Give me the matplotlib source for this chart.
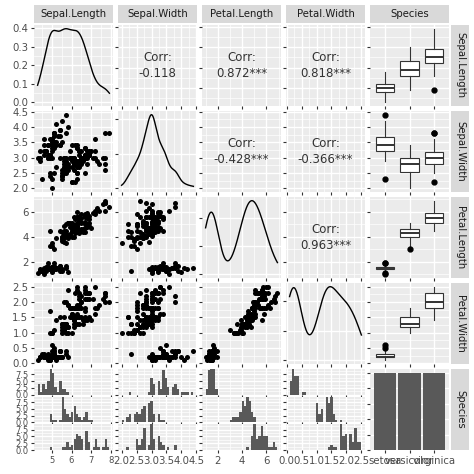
import numpy as np, math
import matplotlib
matplotlib.use("Agg")
import matplotlib.pyplot as plt
from matplotlib.ticker import AutoMinorLocator, FixedLocator

sepal_length = [5.1,4.9,4.7,4.6,5.0,5.4,4.6,5.0,4.4,4.9,5.4,4.8,4.8,4.3,5.8,5.7,5.4,5.1,5.7,5.1,5.4,5.1,4.6,5.1,4.8,5.0,5.0,5.2,5.2,4.7,4.8,5.4,5.2,5.5,4.9,5.0,5.5,4.9,4.4,5.1,5.0,4.5,4.4,5.0,5.1,4.8,5.1,4.6,5.3,5.0,
 7.0,6.4,6.9,5.5,6.5,5.7,6.3,4.9,6.6,5.2,5.0,5.9,6.0,6.1,5.6,6.7,5.6,5.8,6.2,5.6,5.9,6.1,6.3,6.1,6.4,6.6,6.8,6.7,6.0,5.7,5.5,5.5,5.8,6.0,5.4,6.0,6.7,6.3,5.6,5.5,5.5,6.1,5.8,5.0,5.6,5.7,5.7,6.2,5.1,5.7,
 6.3,5.8,7.1,6.3,6.5,7.6,4.9,7.3,6.7,7.2,6.5,6.4,6.8,5.7,5.8,6.4,6.5,7.7,7.7,6.0,6.9,5.6,7.7,6.3,6.7,7.2,6.2,6.1,6.4,7.2,7.4,7.9,6.4,6.3,6.1,7.7,6.3,6.4,6.0,6.9,6.7,6.9,5.8,6.8,6.7,6.7,6.3,6.5,6.2,5.9]
sepal_width = [3.5,3.0,3.2,3.1,3.6,3.9,3.4,3.4,2.9,3.1,3.7,3.4,3.0,3.0,4.0,4.4,3.9,3.5,3.8,3.8,3.4,3.7,3.6,3.3,3.4,3.0,3.4,3.5,3.4,3.2,3.1,3.4,4.1,4.2,3.1,3.2,3.5,3.6,3.0,3.4,3.5,2.3,3.2,3.5,3.8,3.0,3.8,3.2,3.7,3.3,
 3.2,3.2,3.1,2.3,2.8,2.8,3.3,2.4,2.9,2.7,2.0,3.0,2.2,2.9,2.9,3.1,3.0,2.7,2.2,2.5,3.2,2.8,2.5,2.8,2.9,3.0,2.8,3.0,2.9,2.6,2.4,2.4,2.7,2.7,3.0,3.4,3.1,2.3,3.0,2.5,2.6,3.0,2.6,2.3,2.7,3.0,2.9,2.9,2.5,2.8,
 3.3,2.7,3.0,2.9,3.0,3.0,2.5,2.9,2.5,3.6,3.2,2.7,3.0,2.5,2.8,3.2,3.0,3.8,2.6,2.2,3.2,2.8,2.8,2.7,3.3,3.2,2.8,3.0,2.8,3.0,2.8,3.8,2.8,2.8,2.6,3.0,3.4,3.1,3.0,3.1,3.1,3.1,2.7,3.2,3.3,3.0,2.5,3.0,3.4,3.0]
petal_length = [1.4,1.4,1.3,1.5,1.4,1.7,1.4,1.5,1.4,1.5,1.5,1.6,1.4,1.1,1.2,1.5,1.3,1.4,1.7,1.5,1.7,1.5,1.0,1.7,1.9,1.6,1.6,1.5,1.4,1.6,1.6,1.5,1.5,1.4,1.5,1.2,1.3,1.4,1.3,1.5,1.3,1.3,1.3,1.6,1.9,1.4,1.6,1.4,1.5,1.4,
 4.7,4.5,4.9,4.0,4.6,4.5,4.7,3.3,4.6,3.9,3.5,4.2,4.0,4.7,3.6,4.4,4.5,4.1,4.5,3.9,4.8,4.0,4.9,4.7,4.3,4.4,4.8,5.0,4.5,3.5,3.8,3.7,3.9,5.1,4.5,4.5,4.7,4.4,4.1,4.0,4.4,4.6,4.0,3.3,4.2,4.2,4.2,4.3,3.0,4.1,
 6.0,5.1,5.9,5.6,5.8,6.6,4.5,6.3,5.8,6.1,5.1,5.3,5.5,5.0,5.1,5.3,5.5,6.7,6.9,5.0,5.7,4.9,6.7,4.9,5.7,6.0,4.8,4.9,5.6,5.8,6.1,6.4,5.6,5.1,5.6,6.1,5.6,5.5,4.8,5.4,5.6,5.1,5.1,5.9,5.7,5.2,5.0,5.2,5.4,5.1]
petal_width = [0.2,0.2,0.2,0.2,0.2,0.4,0.3,0.2,0.2,0.1,0.2,0.2,0.1,0.1,0.2,0.4,0.4,0.3,0.3,0.3,0.2,0.4,0.2,0.5,0.2,0.2,0.4,0.2,0.2,0.2,0.2,0.4,0.1,0.2,0.2,0.2,0.2,0.1,0.2,0.2,0.3,0.3,0.2,0.6,0.4,0.3,0.2,0.2,0.2,0.2,
 1.4,1.5,1.5,1.3,1.5,1.3,1.6,1.0,1.3,1.4,1.0,1.5,1.0,1.4,1.3,1.4,1.5,1.0,1.5,1.1,1.8,1.3,1.5,1.2,1.3,1.4,1.4,1.7,1.5,1.0,1.1,1.0,1.2,1.6,1.5,1.6,1.5,1.3,1.3,1.3,1.2,1.4,1.2,1.0,1.3,1.2,1.3,1.3,1.1,1.3,
 2.5,1.9,2.1,1.8,2.2,2.1,1.7,1.8,1.8,2.5,2.0,1.9,2.1,2.0,2.4,2.3,1.8,2.2,2.3,1.5,2.3,2.0,2.0,1.8,2.1,1.8,1.8,1.8,2.1,1.6,1.9,2.0,2.2,1.5,1.4,2.3,2.4,1.8,1.8,2.1,2.4,2.3,1.9,2.3,2.5,2.3,1.9,2.0,2.3,1.8]
species_names = ["setosa", "versicolor", "virginica"]
species_counts = [50, 50, 50]
var_names = ["Sepal.Length", "Sepal.Width", "Petal.Length", "Petal.Width", "Species"]
tick_sets = [[5, 6, 7, 8], [2.0, 2.5, 3.0, 3.5, 4.0, 4.5], [2, 4, 6], [0.0, 0.5, 1.0, 1.5, 2.0, 2.5]]
tick_fmt = ["{:g}", "{:.1f}", "{:g}", "{:.1f}"]

data = [np.array(sepal_length), np.array(sepal_width), np.array(petal_length), np.array(petal_width)]
sp = np.repeat(np.arange(3), species_counts)

def lims(v):
    lo, hi = v.min(), v.max(); r = hi - lo
    return lo - 0.05 * r, hi + 0.05 * r

W = 474
fig = plt.figure(figsize=(4.74, 4.74), dpi=100)
PX0, PY0, PW, PH, GAP = 34, 25, 79, 81, 5
BG, GRIDC, TXT = "#EBEBEB", "white", "#4D4D4D"
FS = 7.3

def rect(x, y, w, h):
    return [x / W, 1 - (y + h) / W, w / W, h / W]

def style(ax):
    ax.set_facecolor(BG)
    for s in ax.spines.values():
        s.set_visible(False)
    ax.set_axisbelow(True)
    ax.grid(True, which="major", color=GRIDC, lw=1.0)
    ax.grid(True, which="minor", color=GRIDC, lw=0.5)
    ax.tick_params(which="both", length=2.5, color="#333333", labelsize=FS, labelcolor=TXT, pad=1.5)
    ax.tick_params(which="minor", length=0)
    ax.tick_params(labelbottom=False, labelleft=False)

def setx(ax, j):
    ax.set_xlim(*lims(data[j]))
    ax.xaxis.set_major_locator(FixedLocator(tick_sets[j]))
    ax.xaxis.set_minor_locator(AutoMinorLocator(2))

def sety(ax, i):
    ax.set_ylim(*lims(data[i]))
    ax.yaxis.set_major_locator(FixedLocator(tick_sets[i]))
    ax.yaxis.set_minor_locator(AutoMinorLocator(2))

def kde(v):
    n = len(v)
    iqr = np.subtract(*np.percentile(v, [75, 25]))
    bw = 0.9 * min(v.std(ddof=1), iqr / 1.34) * n ** -0.2
    xs = np.linspace(v.min(), v.max(), 512)
    ys = np.exp(-0.5 * ((xs[:, None] - v[None, :]) / bw) ** 2).sum(1) / (n * bw * np.sqrt(2 * np.pi))
    return xs, ys

def stars(r, n=150):
    t = r * math.sqrt((n - 2) / (1 - r * r))
    p = math.erfc(abs(t) / math.sqrt(2))
    return "***" if p < 0.001 else "**" if p < 0.01 else "*" if p < 0.05 else ""

for i in range(5):
    for j in range(5):
        x0 = PX0 + j * (PW + GAP); y0 = PY0 + i * (PH + GAP)
        if i == 4 and j < 4:
            v = data[j]
            edges = np.linspace(v.min(), v.max(), 31)
            hh = (PH - 4) / 3
            for k in range(3):
                ax = fig.add_axes(rect(x0, y0 + k * (hh + 2), PW, hh))
                style(ax); setx(ax, j)
                ax.hist(v[sp == k], bins=edges, color="#595959")
                ax.set_ylim(0, 9.5)
                ax.yaxis.set_major_locator(FixedLocator([0, 2.5, 5.0, 7.5]))
                ax.yaxis.set_minor_locator(AutoMinorLocator(2))
                ax.yaxis.set_major_formatter(lambda val, pos: f"{val:.1f}")
                if j == 0:
                    ax.tick_params(labelleft=True, labelsize=6)
                if k == 2:
                    ax.tick_params(labelbottom=True)
                    ax.xaxis.set_major_formatter(lambda val, pos, f=tick_fmt[j]: f.format(val))
            continue
        ax = fig.add_axes(rect(x0, y0, PW, PH))
        style(ax)
        if i == 4 and j == 4:
            ax.bar(range(3), species_counts, width=0.9, color="#595959")
            ax.set_xlim(-0.6, 2.6); ax.set_ylim(0, 52.5)
            ax.set_xticks(range(3)); ax.set_xticklabels(species_names)
            ax.tick_params(labelbottom=True)
            ax.yaxis.set_major_locator(FixedLocator([0, 10, 20, 30, 40, 50]))
        elif j == 4:
            ax.boxplot([data[i][sp == k] for k in range(3)], positions=range(3), widths=0.75,
                       patch_artist=True, whis=1.5,
                       boxprops=dict(facecolor="white", edgecolor="#333333", lw=0.8),
                       medianprops=dict(color="#333333", lw=1.4),
                       whiskerprops=dict(color="#333333", lw=0.8), capprops=dict(lw=0),
                       flierprops=dict(marker="o", markerfacecolor="black", markeredgecolor="black", markersize=3.5))
            ax.set_xlim(-0.6, 2.6); sety(ax, i)
            ax.set_xticks(range(3)); ax.set_xticklabels(species_names)
            ax.xaxis.grid(True)
        elif i == j:
            xs, ys = kde(data[i])
            ax.plot(xs, ys, color="black", lw=1)
            setx(ax, j)
            ax.set_ylim(-0.05 * ys.max(), ys.max() * 1.05)
            if i == 0:
                ax.yaxis.set_major_locator(FixedLocator([0, 0.1, 0.2, 0.3, 0.4]))
                ax.yaxis.set_minor_locator(AutoMinorLocator(2))
                ax.yaxis.set_major_formatter(lambda val, pos: f"{val:.1f}")
                ax.tick_params(labelleft=True)
        elif i > j:
            ax.scatter(data[j], data[i], s=13, color="black", linewidths=0)
            setx(ax, j); sety(ax, i)
            if j == 0:
                ax.tick_params(labelleft=True)
                ax.yaxis.set_major_formatter(lambda val, pos, f=tick_fmt[i]: f.format(val))
        else:
            setx(ax, j); sety(ax, i)
            r = np.corrcoef(data[j], data[i])[0, 1]
            ax.text(0.5, 0.6, "Corr:", transform=ax.transAxes, ha="center", va="center", fontsize=8.5, color="#333333")
            ax.text(0.5, 0.4, f"{r:.3f}{stars(r)}", transform=ax.transAxes, ha="center", va="center", fontsize=8.5, color="#333333")
        if i == 0:
            sx = fig.add_axes(rect(x0, 5, PW, 18)); sx.set_facecolor("#D9D9D9")
            sx.set_xticks([]); sx.set_yticks([])
            for s in sx.spines.values(): s.set_visible(False)
            sx.text(0.5, 0.5, var_names[j], ha="center", va="center", fontsize=FS, color="#1A1A1A")
    sx = fig.add_axes(rect(PX0 + 5 * PW + 4 * GAP + 2, PY0 + i * (PH + GAP), 18, PH)); sx.set_facecolor("#D9D9D9")
    sx.set_xticks([]); sx.set_yticks([])
    for s in sx.spines.values(): s.set_visible(False)
    sx.text(0.5, 0.5, var_names[i], ha="center", va="center", rotation=-90, fontsize=FS, color="#1A1A1A")

fig.savefig("out.png", dpi=100, facecolor="white")
